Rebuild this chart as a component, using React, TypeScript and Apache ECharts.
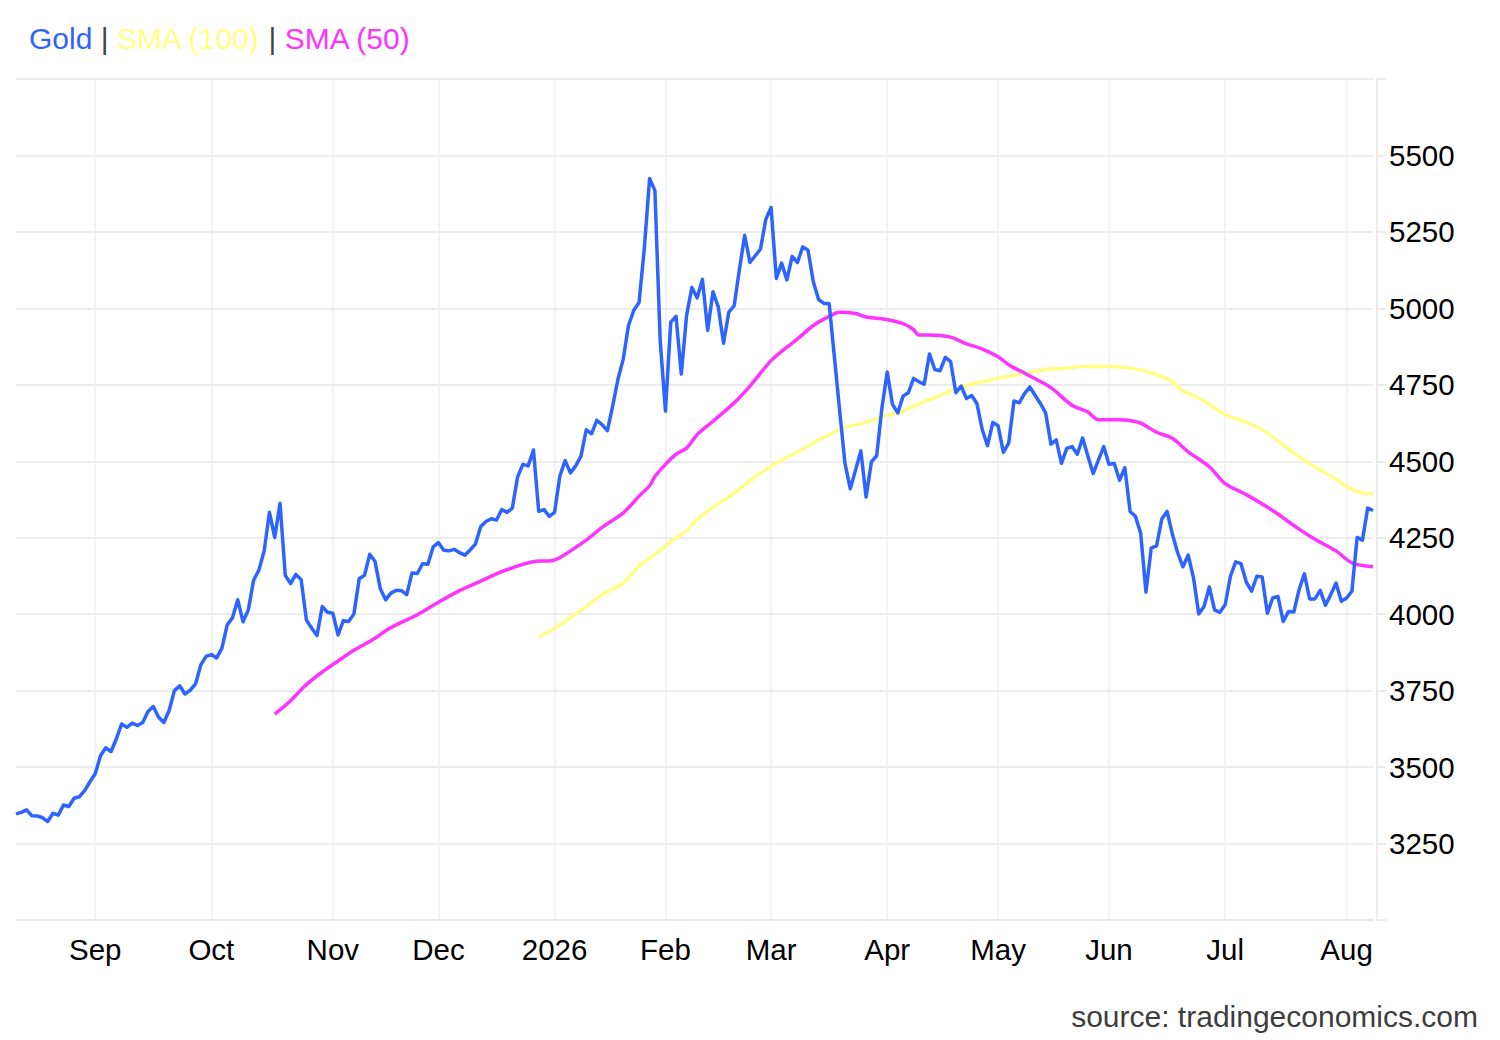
import React, { useEffect, useRef } from "react";
import * as echarts from "echarts";

// ---- data -------------------------------------------------------------
const FIRST_DAY = "2025-08-11";
const LAST_DAY = "2026-08-10";
const HOLIDAYS = ["2025-12-25", "2026-01-01", "2026-04-03"];
const MONTHS = ["Jan", "Feb", "Mar", "Apr", "May", "Jun", "Jul", "Aug", "Sep", "Oct", "Nov", "Dec"];

const Y_MIN = 3000;
const Y_MAX = 5750;
const Y_STEP = 250;

// Gold daily close, one value per trading day
const goldValues: number[] = [
  3347, 3352, 3360, 3341, 3340, 3335, 3322, 3349, 3343, 3376,
  3371, 3398, 3403, 3423, 3452, 3478, 3537, 3563, 3551, 3592,
  3641, 3630, 3644, 3636, 3646, 3682, 3698, 3663, 3646, 3685,
  3750, 3766, 3739, 3752, 3772, 3834, 3862, 3868, 3857, 3889,
  3965, 3988, 4047, 3975, 4014, 4111, 4144, 4207, 4333, 4251,
  4363, 4127, 4100, 4130, 4113, 3981, 3954, 3930, 4025, 4006,
  4003, 3932, 3979, 3976, 4001, 4116, 4127, 4196, 4172, 4083,
  4047, 4069, 4078, 4077, 4064, 4135, 4133, 4165, 4163, 4220,
  4234, 4209, 4207, 4212, 4201, 4193, 4210, 4229, 4286, 4303,
  4312, 4308, 4342, 4333, 4347, 4449, 4490, 4485, 4537, 4336,
  4342, 4320, 4333, 4452, 4502, 4462, 4485, 4517, 4603, 4590,
  4634, 4620, 4600, 4680, 4768, 4834, 4944, 4994, 5019, 5197,
  5425, 5385, 4895, 4664, 4955, 4974, 4785, 4977, 5068, 5034,
  5095, 4928, 5054, 5005, 4886, 4988, 5008, 5126, 5239, 5150,
  5172, 5194, 5291, 5330, 5098, 5148, 5093, 5170, 5150, 5201,
  5190, 5087, 5029, 5016, 5016, 4840, 4664, 4493, 4410, 4471,
  4534, 4383, 4498, 4518, 4675, 4792, 4686, 4658, 4713, 4724,
  4771, 4760, 4752, 4851, 4800, 4796, 4840, 4826, 4724, 4746,
  4705, 4715, 4688, 4603, 4551, 4627, 4616, 4529, 4559, 4697,
  4691, 4721, 4743, 4716, 4689, 4658, 4556, 4570, 4493, 4542,
  4548, 4523, 4576, 4517, 4460, 4504, 4548, 4490, 4493, 4438,
  4479, 4336, 4320, 4265, 4072, 4216, 4223, 4311, 4336, 4262,
  4201, 4155, 4193, 4119, 4001, 4025, 4089, 4014, 4006, 4031,
  4124, 4171, 4165, 4105, 4075, 4124, 4122, 4003, 4053, 4058,
  3976, 4009, 4007, 4080, 4132, 4050, 4050, 4078, 4029, 4064,
  4102, 4042, 4053, 4075, 4251, 4242, 4347, 4339,
];

// SMA (50): [trading-day number, value]
const sma50Points: [number, number][] = [
  [49, 3673], [52, 3717], [55, 3770], [58, 3811], [61, 3847], [64, 3882], [68, 3921],
  [70, 3946], [72, 3965], [76, 3998], [80, 4039], [84, 4077], [88, 4108], [92, 4139],
  [96, 4163], [99, 4174], [101, 4174], [103, 4185], [105, 4207], [108, 4242], [111, 4284],
  [115, 4331], [118, 4386], [120, 4420], [121, 4450], [123, 4490], [125, 4523], [127, 4543],
  [129, 4587], [132, 4631], [136, 4691], [139, 4746], [143, 4829], [146, 4873], [148, 4900],
  [151, 4944], [154, 4974], [156, 4987], [159, 4983], [161, 4972], [164, 4966], [168, 4950],
  [170, 4930], [171, 4913], [173, 4913], [177, 4906], [180, 4884], [183, 4867], [186, 4842],
  [188, 4816], [192, 4779], [196, 4741], [200, 4683], [203, 4661], [205, 4636], [209, 4636],
  [211, 4633], [213, 4625], [216, 4595], [219, 4575], [222, 4531], [226, 4482], [229, 4427],
  [233, 4391], [238, 4339], [243, 4278], [246, 4245], [250, 4207], [253, 4168], [257, 4155],
];

// SMA (100): [trading-day number, value]
const sma100Points: [number, number][] = [
  [99, 3924], [102, 3954], [105, 3989], [108, 4025], [111, 4064], [115, 4102], [118, 4157],
  [122, 4209], [124, 4238], [127, 4273], [129, 4311], [133, 4361], [136, 4396], [139, 4436],
  [142, 4473], [145, 4504], [149, 4540], [152, 4570], [155, 4595], [157, 4611], [161, 4627],
  [164, 4645], [168, 4664], [171, 4688], [175, 4715], [177, 4730], [181, 4752], [186, 4771],
  [191, 4787], [195, 4801], [198, 4803], [202, 4810], [207, 4810], [210, 4807], [213, 4798],
  [217, 4777], [219, 4760], [221, 4730], [223, 4716], [226, 4686], [229, 4653], [233, 4628],
  [236, 4603], [239, 4567], [243, 4515], [246, 4482], [250, 4441], [253, 4408], [255, 4396],
  [257, 4394],
];

// ---- helpers ----------------------------------------------------------
function buildTradingDays(first: string, last: string, skip: string[]): string[] {
  const out: string[] = [];
  const d = new Date(first + "T00:00:00Z");
  const end = new Date(last + "T00:00:00Z");
  while (d.getTime() <= end.getTime()) {
    const wd = d.getUTCDay();
    const iso = d.toISOString().slice(0, 10);
    if (wd !== 0 && wd !== 6 && skip.indexOf(iso) < 0) out.push(iso);
    d.setUTCDate(d.getUTCDate() + 1);
  }
  return out;
}

const categories = buildTradingDays(FIRST_DAY, LAST_DAY, HOLIDAYS);

const isMonthStart = (i: number) =>
  i > 0 && categories[i] && categories[i].slice(5, 7) !== categories[i - 1].slice(5, 7);

const monthLabel = (value: string) => {
  const m = parseInt(value.slice(5, 7), 10);
  return m === 1 ? value.slice(0, 4) : MONTHS[m - 1];
};

const COLORS = {
  gold: "#2d64ff",
  sma100: "#ffff85",
  sma50: "#ff33ff",
  sep: "#444444",
  hGrid: "#e6e6e6",
  vGrid: "#edf0f4",
  text: "#000000",
  source: "#3d3d3d",
};
const FONT = "'Liberation Sans', Arial, Helvetica, sans-serif";

export default function App() {
  const ref = useRef<HTMLDivElement>(null);

  useEffect(() => {
    if (!ref.current) return;
    const chart = echarts.init(ref.current, undefined, { renderer: "svg" });

    const option: any = {
      animation: false,
      backgroundColor: "#ffffff",
      textStyle: { fontFamily: FONT },
      grid: { left: 16, right: 127, top: 79, bottom: 120, containLabel: false },
      xAxis: {
        type: "category",
        data: categories,
        boundaryGap: false,
        axisLine: { show: true, lineStyle: { color: COLORS.hGrid, width: 1.5 } },
        axisTick: { show: false },
        axisLabel: {
          interval: (i: number) => isMonthStart(i),
          formatter: (v: string) => monthLabel(v),
          color: COLORS.text,
          fontSize: 29.5,
          fontFamily: FONT,
          margin: 14,
        },
        splitLine: {
          show: true,
          interval: (i: number) => isMonthStart(i),
          lineStyle: { color: COLORS.vGrid, width: 1.5 },
        },
      },
      yAxis: {
        type: "value",
        position: "right",
        min: Y_MIN,
        max: Y_MAX,
        interval: Y_STEP,
        offset: 4,
        axisLine: { show: true, lineStyle: { color: COLORS.hGrid, width: 1.5 } },
        axisTick: { show: true, length: 9, lineStyle: { color: COLORS.hGrid, width: 1.5 } },
        axisLabel: {
          color: COLORS.text,
          fontSize: 29.5,
          fontFamily: FONT,
          margin: 12,
          formatter: (v: number) => (v === Y_MIN || v === Y_MAX ? "" : String(v)),
        },
        splitLine: { show: true, lineStyle: { color: COLORS.hGrid, width: 1.5 } },
      },
      graphic: [
        {
          type: "text",
          left: 29,
          top: 23,
          style: {
            text: "{g|Gold}{s| | }{y|SMA (100)}{s| | }{m|SMA (50)}",
            fontFamily: FONT,
            fontSize: 30,
            rich: {
              g: { fill: COLORS.gold, fontSize: 30, fontFamily: FONT },
              s: { fill: COLORS.sep, fontSize: 30, fontFamily: FONT },
              y: { fill: COLORS.sma100, fontSize: 30, fontFamily: FONT },
              m: { fill: COLORS.sma50, fontSize: 30, fontFamily: FONT },
            },
          },
        },
        {
          type: "text",
          right: 22,
          top: 1001,
          style: {
            text: "source: tradingeconomics.com",
            fill: COLORS.source,
            fontSize: 30,
            fontFamily: FONT,
          },
        },
      ],
      series: [
        {
          name: "SMA (100)",
          type: "line",
          data: sma100Points.map(([i, v]) => [categories[i], v]),
          showSymbol: false,
          symbol: "none",
          smooth: 0.3,
          lineStyle: { color: COLORS.sma100, width: 3.5 },
          z: 2,
        },
        {
          name: "SMA (50)",
          type: "line",
          data: sma50Points.map(([i, v]) => [categories[i], v]),
          showSymbol: false,
          symbol: "none",
          smooth: 0.3,
          lineStyle: { color: COLORS.sma50, width: 3.5 },
          z: 3,
        },
        {
          name: "Gold",
          type: "line",
          data: goldValues,
          showSymbol: false,
          symbol: "none",
          lineStyle: { color: COLORS.gold, width: 3.5, join: "round" },
          z: 4,
        },
      ],
    };

    chart.setOption(option);
    return () => chart.dispose();
  }, []);

  return (
    <div
      ref={ref}
      style={{ position: "fixed", left: 0, top: 0, width: 1500, height: 1040, background: "#fff" }}
    />
  );
}
